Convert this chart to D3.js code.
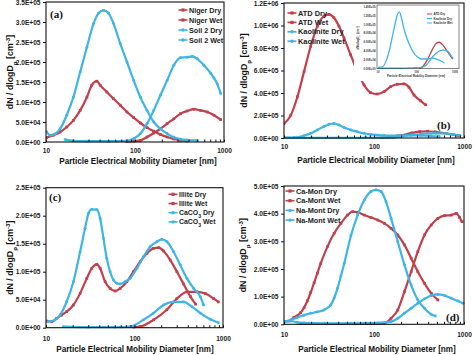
<!DOCTYPE html>
<html><head><meta charset="utf-8">
<script src="https://cdn.jsdelivr.net/npm/d3@7"></script>
<style>
body{margin:0;background:#fff}
svg{display:block;font-family:"Liberation Sans",Arial,sans-serif;font-weight:bold}
</style>
</head><body>
<svg id="chart" width="474" height="355"></svg>
<script>
// ---------- shared ----------
const xTickVals = [10, 100, 1000];
const xTickLabels = ["10", "100", "1000"];
const xMinorVals = [20,30,40,50,60,70,80,90,200,300,400,500,600,700,800,900];
const xTitle = "Particle Electrical Mobility Diameter [nm]";

// ---------- panel (a) : values in units of 1E+05 ----------
const yTicksA = [0,0.5,1,1.5,2,2.5,3,3.5];
const yLabelsA = ["0.0E+00","5.0E+04","1.0E+05","1.5E+05","2.0E+05","2.5E+05","3.0E+05","3.5E+05"];
const legendA = ["Niger Dry","Niger Wet","Soil 2 Dry","Soil 2 Wet"];
const nigerDry = [[10.2,0.11],[12.1,0.17],[14.4,0.25],[17.1,0.375],[20.3,0.54],[24.2,0.79],[28.8,1.12],[32.7,1.42],[37.3,1.52],[40.6,1.42],[48.3,1.25],[57.4,1.08],[68.3,0.92],[81.2,0.75],[96.6,0.61],[114.9,0.475],[136.6,0.36],[162.4,0.27],[193.1,0.19],[229.6,0.125],[273,0.075],[324.6,0.04],[386,0.025]];
const nigerWet = [[81.2,0.01],[96.6,0.02],[114.9,0.04],[136.6,0.125],[162.4,0.225],[193.1,0.33],[229.6,0.46],[273,0.58],[324.6,0.71],[386,0.775],[459,0.82],[545.8,0.79],[648.6,0.75],[771.3,0.67],[917.3,0.56]];
const soil2Dry = [[10.2,0.25],[11.1,0.17],[12.6,0.2],[14.4,0.33],[17.1,0.67],[20.3,1.12],[24.2,1.75],[28.8,2.37],[34.2,2.96],[38.9,3.22],[44.3,3.29],[50.5,3.22],[57.4,2.96],[68.3,2.46],[81.2,2.0],[96.6,1.54],[114.9,1.12],[136.6,0.79],[162.4,0.5],[193.1,0.33],[229.6,0.21],[273,0.12],[324.6,0.07],[386,0.05],[500,0.04]];
const soil2Wet = [[16.4,0.06],[20.3,0.03],[28.8,0.02],[50.5,0.02],[81.2,0.03],[96.6,0.08],[114.9,0.21],[136.6,0.46],[162.4,0.79],[193.1,1.17],[229.6,1.54],[273,1.92],[324.6,2.11],[386,2.12],[439.6,2.14],[500,2.08],[594.8,1.92],[707.2,1.72],[771.3,1.6],[841.2,1.45],[917.3,1.21]];

// ---------- panel (b) : values in units of 1E+05 ----------
const yTicksB = [0,2,4,6,8,10,12];
const yLabelsB = ["0.0E+00","2.0E+05","4.0E+05","6.0E+05","8.0E+05","1.0E+06","1.2E+06"];
const legendB = ["ATD Dry","ATD Wet","Kaolinite Dry","Kaolinite Wet"];
const atdDry = [[118.6,0.0],[146,0.05],[196,0.22],[264,0.45],[323,0.57],[394,0.6],[480,0.54],[646,0.38],[870,0.215]];
const atdWet = [[10,1.28],[11.9,2.03],[14.1,3.67],[16.7,5.9],[19.8,8.15],[23.5,9.94],[27.8,10.84],[31.6,10.99],[35.9,10.69],[40.8,9.94],[46.4,8.9],[55,7.4],[65.3,5.9],[77.4,4.72],[91.8,4.03],[108.9,3.91],[129.2,4.12],[153.2,4.57],[181.6,4.78],[215.4,4.81],[244.9,4.51],[278.3,3.82],[330,3.3],[375,2.95]];
const kaoDry = [[10,0.03],[13,0.04],[16.7,0.2],[19.8,0.42],[23.5,0.72],[27.8,1.02],[31.6,1.22],[35.9,1.29],[40.8,1.15],[46.4,0.93],[55,0.72],[65.3,0.55],[77.4,0.42],[91.8,0.32],[108.9,0.26],[129.2,0.22],[181.6,0.22],[255,0.24],[330,0.22],[426,0.18],[530,0.13]];
const kaoWet = [[10,0.01],[20,0.01],[40,0.01],[80,0.02],[129,0.03],[161,0.05],[196,0.12],[264,0.27],[356,0.38],[480,0.42],[646,0.4],[774,0.31],[900,0.23]];
// inset of (b)
const yTicksInset = [0,0.2,0.4,0.6,0.8,1.0,1.2,1.4];
const yLabelsInset = ["0.00E+00","2.00E+04","4.00E+04","6.00E+04","8.00E+04","1.00E+05","1.20E+05","1.40E+05"];
const legendInset = ["ATD Dry","Kaolinite Dry","Kaolinite Wet"];

// ---------- panel (c) : values in units of 1E+05 ----------
const yTicksC = [0,0.5,1,1.5,2,2.5];
const yLabelsC = ["0.0E+00","5.0E+04","1.0E+05","1.5E+05","2.0E+05","2.5E+05"];
const legendC = ["Illite Dry","Illite Wet","CaCO3 Dry","CaCO3 Wet"];
const illiteDry = [[10.2,0.119],[11.6,0.107],[13.2,0.167],[15.0,0.226],[17.1,0.286],[20.4,0.405],[24.3,0.613],[28.9,0.881],[32.9,1.06],[37.5,1.131],[40.9,1.06],[46.6,0.821],[53.0,0.702],[60.4,0.655],[68.8,0.702],[81.9,0.821],[97.4,1.0],[115.9,1.179],[137.9,1.327],[164.1,1.417],[187,1.429],[213,1.369],[253.4,1.208],[301.5,1.0],[358.6,0.78],[426.8,0.56],[490,0.42]];
const illiteWet = [[97.4,0.01],[116,0.02],[164,0.14],[232,0.32],[301,0.52],[395,0.64],[508,0.64],[631,0.61],[785,0.52],[887,0.46]];
const caco3Dry = [[10.6,0.107],[12.6,0.137],[14.4,0.226],[17.1,0.464],[20.4,0.821],[24.3,1.357],[27.6,1.774],[30.2,2.042],[32.9,2.113],[37.5,2.107],[40.9,1.952],[44.6,1.595],[48.6,1.238],[53.0,1.0],[57.8,0.851],[63.1,0.792],[68.8,0.78],[78.4,0.821],[89.3,0.881],[106.3,1.06],[126.5,1.268],[150.4,1.446],[179,1.536],[203.9,1.577],[232.3,1.536],[276.4,1.357],[328.9,1.119],[391.3,0.881],[465.5,0.702],[553.8,0.554],[604,0.405]];
const caco3Wet = [[15.7,0.02],[30,0.01],[60,0.01],[89,0.02],[126,0.14],[164,0.26],[213,0.405],[276,0.46],[356,0.46],[446,0.375],[555,0.26],[719,0.15],[887,0.09]];

// ---------- panel (d) : values in units of 1E+05 ----------
const yTicksD = [0,1,2,3,4,5];
const yLabelsD = ["0.0E+00","1.0E+05","2.0E+05","3.0E+05","4.0E+05","5.0E+05"];
const legendD = ["Ca-Mon Dry","Ca-Mont Wet","Na-Mont Dry","Na-Mont Wet"];
const caMonDry = [[10,0.096],[11.4,0.12],[12.9,0.25],[15.3,0.42],[16.7,0.6],[18.2,0.85],[19.8,1.15],[21.6,1.5],[23.5,1.85],[25.6,2.2],[30.4,2.81],[36.1,3.29],[42.9,3.65],[50.9,3.95],[57.8,4.07],[65.8,4.05],[78,3.95],[92.6,3.86],[109.9,3.77],[130.4,3.65],[154.8,3.47],[183.6,3.23],[217.9,2.87],[258.6,2.39],[306.9,1.9],[364.1,1.48],[432.2,1.12],[512.9,0.88]];
const caMontWet = [[15.3,0.02],[30,0.01],[60,0.01],[92.6,0.01],[130.4,0.036],[154.8,0.217],[183.6,0.518],[217.9,1.18],[258.6,1.9],[306.9,2.63],[364.1,3.23],[432.2,3.59],[512.9,3.83],[608.6,3.93],[722.3,3.95],[821.3,4.01],[894.6,3.86],[950,3.71]];
const naMontDry = [[10,0.096],[11.9,0.157],[14.1,0.25],[16.7,0.33],[19.8,0.4],[23.5,0.45],[27.9,0.52],[33.1,0.7],[36.1,0.95],[39.3,1.3],[42.9,1.75],[46.7,2.2],[55.4,3.2],[65.8,3.95],[78,4.49],[92.6,4.8],[105.3,4.86],[119.7,4.8],[136.1,4.43],[154.8,3.83],[183.6,2.99],[217.9,2.15],[258.6,1.42],[306.9,0.88],[364.1,0.58],[432.2,0.36],[480,0.3]];
const naMontWet = [[10,0.096],[11.9,0.12],[14.1,0.07],[16.7,0.05],[27.9,0.036],[55.4,0.036],[109.9,0.05],[154.8,0.096],[183.6,0.217],[217.9,0.4],[258.6,0.58],[306.9,0.76],[364.1,0.92],[432.2,1.04],[512.9,1.08],[608.6,1.04],[722.3,0.94],[857.2,0.84],[974.6,0.76]];

// ---------- drawing ----------
const RED = "#c2404b", BLUE = "#3db5e6";
const svg = d3.select("#chart");
svg.append("rect").attr("width",474).attr("height",355).attr("fill","#fff");
let clipId = 0;

function addLabelText(sel, label){
  const m = label.match(/^(.*CaCO)3(.*)$/);
  if(m){
    sel.append("tspan").text(m[1]);
    sel.append("tspan").attr("baseline-shift","sub").attr("font-size","75%").text("3");
    sel.append("tspan").text(m[2]);
  } else sel.text(label);
}

function drawSeries(g, x, y, s, lw, ms){
  const line = d3.line().x(d=>x(d[0])).y(d=>y(d[1])).curve(d3.curveMonotoneX);
  g.append("path").datum(s.data).attr("d",line).attr("fill","none")
    .attr("stroke",s.color).attr("stroke-width",lw).attr("stroke-linejoin","round");
  if(ms>0){
    if(s.color===RED){
      g.selectAll(null).data(s.data).enter().append("rect")
        .attr("x",d=>x(d[0])-ms/2).attr("y",d=>y(d[1])-ms/2)
        .attr("width",ms).attr("height",ms).attr("fill",s.color);
    } else {
      g.selectAll(null).data(s.data).enter().append("circle")
        .attr("cx",d=>x(d[0])).attr("cy",d=>y(d[1])).attr("r",ms/2+0.1).attr("fill",s.color);
    }
  }
}

function yTitle(g, cx, cy, fs){
  const t = g.append("text").attr("transform",`translate(${cx},${cy}) rotate(-90)`)
    .attr("text-anchor","middle").attr("dy","0.35em").attr("font-size",fs).attr("fill","#111");
  t.append("tspan").text("dN / dlogD");
  t.append("tspan").attr("baseline-shift","sub").attr("font-size","70%").text("p");
  t.append("tspan").text(" [cm");
  t.append("tspan").attr("baseline-shift","super").attr("font-size","70%").text("-3");
  t.append("tspan").text("]");
}

function drawPanel(cfg){
  const g = svg.append("g");
  const x = d3.scaleLog().domain([10,1000]).range([cfg.x0,cfg.x1]);
  const y = d3.scaleLinear().domain([0,cfg.ymax]).range([cfg.y1,cfg.y0]);
  const id = "clip"+(clipId++);
  g.append("clipPath").attr("id",id).append("rect")
    .attr("x",cfg.x0).attr("y",cfg.y0-2).attr("width",cfg.x1-cfg.x0+2).attr("height",cfg.y1-cfg.y0+3);
  const pg = g.append("g").attr("clip-path",`url(#${id})`);
  cfg.series.forEach(s=>drawSeries(pg,x,y,s,2.2,2.7));

  g.append("rect").attr("x",cfg.x0).attr("y",cfg.y0).attr("width",cfg.x1-cfg.x0).attr("height",cfg.y1-cfg.y0)
    .attr("fill","none").attr("stroke","#111").attr("stroke-width",1.1);

  const ya = d3.axisLeft(y).tickValues(cfg.yTicks).tickFormat((d,i)=>cfg.yLabels[i]).tickSize(3).tickPadding(2.5);
  const yg = g.append("g").attr("transform",`translate(${cfg.x0},0)`).call(ya);
  yg.select(".domain").remove();
  yg.selectAll("line").attr("stroke","#111");
  yg.selectAll("text").attr("font-size",6.6).attr("font-family","Liberation Sans, Arial, sans-serif").attr("font-weight","bold").attr("fill","#222");

  const xa = d3.axisBottom(x).tickValues(xTickVals.concat(xMinorVals))
    .tickFormat(d=>{const i=xTickVals.indexOf(d);return i>=0?xTickLabels[i]:"";})
    .tickSizeInner(-2.5).tickSizeOuter(0).tickPadding(cfg.xpad);
  const xg = g.append("g").attr("transform",`translate(0,${cfg.y1})`).call(xa);
  xg.select(".domain").remove();
  xg.selectAll("line").attr("stroke","#111");
  xg.selectAll("text").attr("font-size",6.6).attr("font-family","Liberation Sans, Arial, sans-serif").attr("font-weight","bold").attr("fill","#222");

  // x title: horizontally condensed like the reference
  g.append("text").attr("transform",`translate(${cfg.xtX},${cfg.xtY}) scale(0.875,1)`).attr("text-anchor","middle")
    .attr("font-size",9.3).attr("fill","#111").text(xTitle);
  yTitle(g, cfg.ytX, (cfg.y0+cfg.y1)/2, 8.8);

  g.append("text").attr("x",cfg.pl[0]).attr("y",cfg.pl[1]).attr("font-family","Liberation Serif, Times New Roman, serif")
    .attr("font-weight","bold").attr("font-size",11).attr("fill","#111").text(cfg.label);

  const lg = g.append("g");
  cfg.legend.forEach((lab,i)=>{
    const yy = cfg.lg.y + i*cfg.lg.dy;
    const col = cfg.series[i].color;
    lg.append("line").attr("x1",cfg.lg.x-4.5).attr("x2",cfg.lg.x+4.5).attr("y1",yy).attr("y2",yy)
      .attr("stroke",col).attr("stroke-width",1.6);
    if(col===RED) lg.append("rect").attr("x",cfg.lg.x-1.6).attr("y",yy-1.6).attr("width",3.2).attr("height",3.2).attr("fill",col);
    else lg.append("circle").attr("cx",cfg.lg.x).attr("cy",yy).attr("r",1.7).attr("fill",col);
    const t = lg.append("text").attr("x",cfg.lg.x+6).attr("y",yy).attr("dy","0.36em")
      .attr("font-size",cfg.lg.fs).attr("fill","#222");
    addLabelText(t, lab);
  });
  return {x,y,g};
}

drawPanel({x0:46,x1:224,y0:2,y1:142,ymax:3.5,yTicks:yTicksA,yLabels:yLabelsA,xpad:6.4,
  xtX:138,xtY:164,ytX:10,label:"(a)",pl:[50,18],
  legend:legendA,lg:{x:183,y:10,dy:10,fs:7.2},
  series:[{data:nigerDry,color:RED},{data:nigerWet,color:RED},{data:soil2Dry,color:BLUE},{data:soil2Wet,color:BLUE}]});

drawPanel({x0:284,x1:464,y0:3,y1:138,ymax:12,yTicks:yTicksB,yLabels:yLabelsB,xpad:6.4,
  xtX:376,xtY:163,ytX:244,label:"(b)",pl:[437,129],
  legend:legendB,lg:{x:292,y:13,dy:9.4,fs:7.4},
  series:[{data:atdDry,color:RED},{data:atdWet,color:RED},{data:kaoDry,color:BLUE},{data:kaoWet,color:BLUE}]});

(function(){
  const g = svg.append("g");
  g.append("rect").attr("x",354).attr("y",4).attr("width",106).attr("height",77).attr("fill","#fff");
  const x = d3.scaleLog().domain([10,1000]).range([378,455]);
  const y = d3.scaleLinear().domain([0,1.4]).range([68.7,7]);
  const series = [{data:atdDry,color:RED},{data:kaoDry,color:BLUE},{data:kaoWet,color:BLUE}];
  series.forEach(s=>drawSeries(g,x,y,s,1.3,0));
  g.append("rect").attr("x",377).attr("y",5).attr("width",82).attr("height",63.7)
    .attr("fill","none").attr("stroke","#333").attr("stroke-width",0.6);
  yTicksInset.forEach((v,i)=>{
    g.append("text").attr("x",375.5).attr("y",y(v)).attr("dy","0.35em").attr("text-anchor","end")
      .attr("font-size",2.8).attr("fill","#333").text(yLabelsInset[i]);
  });
  xTickVals.forEach((v,i)=>{
    g.append("text").attr("x",x(v)).attr("y",72.5).attr("text-anchor","middle")
      .attr("font-size",2.8).attr("fill","#333").text(xTickLabels[i]);
  });
  g.append("text").attr("x",416).attr("y",77).attr("text-anchor","middle").attr("font-size",3)
    .attr("fill","#333").text("Particle Electrical Mobility Diameter (nm)");
  const t = g.append("text").attr("transform","translate(359,38) rotate(-90)").attr("text-anchor","middle")
    .attr("font-size",3).attr("fill","#333");
  t.append("tspan").text("dN/dlogD");
  t.append("tspan").attr("baseline-shift","sub").attr("font-size","70%").text("p");
  t.append("tspan").text(" (cm");
  t.append("tspan").attr("baseline-shift","super").attr("font-size","70%").text("-3");
  t.append("tspan").text(")");
  legendInset.forEach((lab,i)=>{
    const yy = 14 + i*4.5;
    g.append("line").attr("x1",427).attr("x2",432).attr("y1",yy).attr("y2",yy).attr("stroke",series[i].color).attr("stroke-width",1);
    g.append("text").attr("x",433.5).attr("y",yy).attr("dy","0.35em").attr("font-size",3).attr("fill","#333").text(lab);
  });
})();

drawPanel({x0:46,x1:223,y0:187.7,y1:327.7,ymax:2.5,yTicks:yTicksC,yLabels:yLabelsC,xpad:8.3,
  xtX:135,xtY:351.5,ytX:10,label:"(c)",pl:[49,201],
  legend:legendC,lg:{x:173,y:194.3,dy:9.2,fs:6.9},
  series:[{data:illiteDry,color:RED},{data:illiteWet,color:RED},{data:caco3Dry,color:BLUE},{data:caco3Wet,color:BLUE}]});

drawPanel({x0:284,x1:464,y0:186,y1:324.3,ymax:5,yTicks:yTicksD,yLabels:yLabelsD,xpad:8.3,
  xtX:377,xtY:351.5,ytX:243,label:"(d)",pl:[446,321],
  legend:legendD,lg:{x:290,y:191,dy:9.7,fs:7.3},
  series:[{data:caMonDry,color:RED},{data:caMontWet,color:RED},{data:naMontDry,color:BLUE},{data:naMontWet,color:BLUE}]});
</script>
</body></html>
